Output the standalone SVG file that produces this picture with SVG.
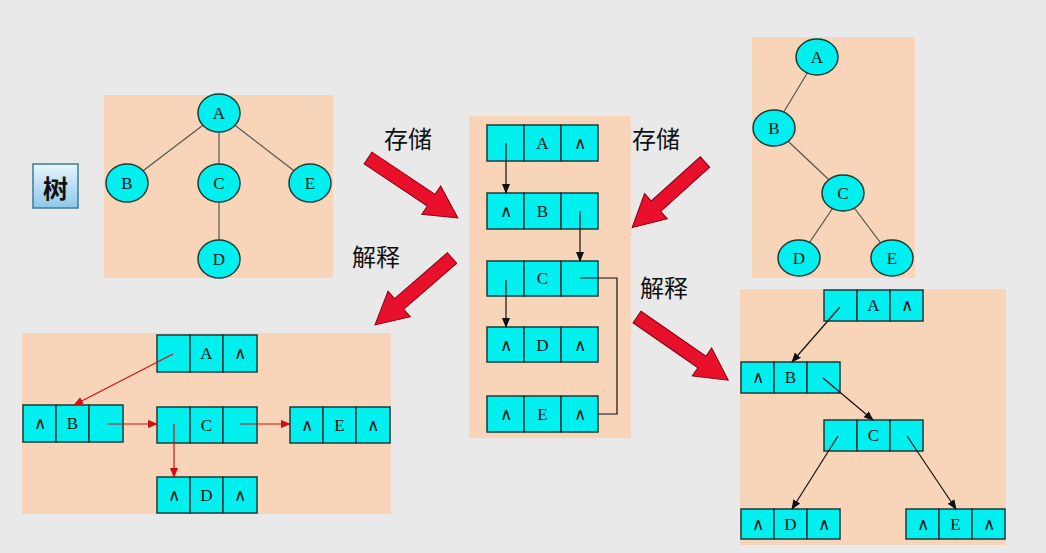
<svg xmlns="http://www.w3.org/2000/svg" width="1046" height="553" viewBox="0 0 1046 553">
<defs>
<style>
.panel{fill:#f8d5b8}
.nd{fill:#00f0f0;stroke:#1a3a3a;stroke-width:1.5}
.cell{fill:#00f0f0;stroke:#1a3a3a;stroke-width:1.5}
.t{font-family:"Liberation Serif",serif;font-size:17px;fill:#111;text-anchor:middle;dominant-baseline:central}
.e{stroke:#555;stroke-width:1.2;fill:none}
.k{stroke:#111;stroke-width:1.2;fill:none;marker-end:url(#ak)}
.r{stroke:#d01010;stroke-width:1.2;fill:none;marker-end:url(#ar)}
.big{fill:#e8102a;stroke:#8a0010;stroke-width:1}
.lbl{font-family:"Noto Sans CJK SC","Noto Sans",sans-serif;font-size:24px;fill:#111}
</style>
<marker id="ak" markerWidth="10" markerHeight="10" refX="9" refY="5" orient="auto" markerUnits="userSpaceOnUse"><path d="M0,1 L10,5 L0,9 Z" fill="#111"/></marker>
<marker id="ar" markerWidth="10" markerHeight="10" refX="9" refY="5" orient="auto" markerUnits="userSpaceOnUse"><path d="M0,1 L10,5 L0,9 Z" fill="#d01010"/></marker>
<linearGradient id="gb" x1="0" y1="0" x2="0" y2="1"><stop offset="0" stop-color="#e8f6fc"/><stop offset="1" stop-color="#8cc8e8"/></linearGradient>
</defs>
<rect width="1046" height="553" fill="#e9e9e9"/>

<g id="tree-label">
<rect x="33" y="164" width="45" height="44" fill="url(#gb)" stroke="#3a7ca0" stroke-width="1.5"/>
<text x="55.5" y="187" font-family="Noto Sans CJK SC,sans-serif" font-size="25" font-weight="bold" text-anchor="middle" dominant-baseline="central" fill="#111">树</text>
</g>

<rect class="panel" x="104" y="95" width="229" height="183"/>
<rect class="panel" x="469" y="116" width="162" height="322"/>
<rect class="panel" x="752" y="37" width="163" height="241"/>
<rect class="panel" x="740" y="289" width="266" height="256"/>
<rect class="panel" x="22" y="333" width="369" height="181"/>

<g id="connectors">
<line class="e" x1="219" y1="113" x2="127" y2="183"/>
<line class="e" x1="219" y1="113" x2="219" y2="259"/>
<line class="e" x1="219" y1="113" x2="310" y2="183"/>
<line class="e" x1="817" y1="57" x2="774" y2="128"/>
<line class="e" x1="774" y1="128" x2="843" y2="193"/>
<line class="e" x1="843" y1="193" x2="799" y2="258"/>
<line class="e" x1="843" y1="193" x2="892" y2="258"/>
</g>

<g id="tree1">
<g id="t1A"><ellipse class="nd" cx="219" cy="113" rx="21" ry="19"/><text class="t" x="219" y="113">A</text></g>
<g id="t1B"><ellipse class="nd" cx="127" cy="183" rx="21" ry="19"/><text class="t" x="127" y="183">B</text></g>
<g id="t1C"><ellipse class="nd" cx="219" cy="183" rx="21" ry="19"/><text class="t" x="219" y="183">C</text></g>
<g id="t1E"><ellipse class="nd" cx="310" cy="183" rx="21" ry="19"/><text class="t" x="310" y="183">E</text></g>
<g id="t1D"><ellipse class="nd" cx="219" cy="259" rx="21" ry="19"/><text class="t" x="219" y="259">D</text></g>
</g>

<g id="tree2">
<g id="t2A"><ellipse class="nd" cx="817" cy="57" rx="21" ry="18"/><text class="t" x="817" y="57">A</text></g>
<g id="t2B"><ellipse class="nd" cx="774" cy="128" rx="21" ry="18"/><text class="t" x="774" y="128">B</text></g>
<g id="t2C"><ellipse class="nd" cx="843" cy="193" rx="21" ry="18"/><text class="t" x="843" y="193">C</text></g>
<g id="t2D"><ellipse class="nd" cx="799" cy="258" rx="21" ry="18"/><text class="t" x="799" y="258">D</text></g>
<g id="t2E"><ellipse class="nd" cx="892" cy="258" rx="21" ry="18"/><text class="t" x="892" y="258">E</text></g>
</g>

<!-- middle storage -->
<g id="mA"><rect class="cell" x="487" y="125" width="37" height="36"/><rect class="cell" x="524" y="125" width="37" height="36"/><rect class="cell" x="561" y="125" width="37" height="36"/><text class="t" x="542.5" y="143">A</text><text class="t" x="579.5" y="143">∧</text></g>
<g id="mB"><rect class="cell" x="487" y="193" width="37" height="36"/><rect class="cell" x="524" y="193" width="37" height="36"/><rect class="cell" x="561" y="193" width="37" height="36"/><text class="t" x="505.5" y="211">∧</text><text class="t" x="542.5" y="211">B</text></g>
<g id="mC"><rect class="cell" x="487" y="261" width="37" height="35"/><rect class="cell" x="524" y="261" width="37" height="35"/><rect class="cell" x="561" y="261" width="37" height="35"/><text class="t" x="542.5" y="278">C</text></g>
<g id="mD"><rect class="cell" x="487" y="327" width="37" height="35"/><rect class="cell" x="524" y="327" width="37" height="35"/><rect class="cell" x="561" y="327" width="37" height="35"/><text class="t" x="505.5" y="345">∧</text><text class="t" x="542.5" y="345">D</text><text class="t" x="579.5" y="345">∧</text></g>
<g id="mE"><rect class="cell" x="487" y="396" width="37" height="36"/><rect class="cell" x="524" y="396" width="37" height="36"/><rect class="cell" x="561" y="396" width="37" height="36"/><text class="t" x="505.5" y="414">∧</text><text class="t" x="542.5" y="414">E</text><text class="t" x="579.5" y="414">∧</text></g>

<!-- bottom right -->
<g id="rA"><rect class="cell" x="824" y="290" width="33" height="31"/><rect class="cell" x="857" y="290" width="33" height="31"/><rect class="cell" x="890" y="290" width="33" height="31"/><text class="t" x="873.5" y="305.5">A</text><text class="t" x="906.5" y="305.5">∧</text></g>
<g id="rB"><rect class="cell" x="741" y="362" width="33" height="31"/><rect class="cell" x="774" y="362" width="33" height="31"/><rect class="cell" x="807" y="362" width="33" height="31"/><text class="t" x="757.5" y="377.5">∧</text><text class="t" x="790.5" y="377.5">B</text></g>
<g id="rC"><rect class="cell" x="824" y="420" width="33" height="31"/><rect class="cell" x="857" y="420" width="33" height="31"/><rect class="cell" x="890" y="420" width="33" height="31"/><text class="t" x="873.5" y="435.5">C</text></g>
<g id="rD"><rect class="cell" x="741" y="509" width="33" height="30"/><rect class="cell" x="774" y="509" width="33" height="30"/><rect class="cell" x="807" y="509" width="33" height="30"/><text class="t" x="757.5" y="524">∧</text><text class="t" x="790.5" y="524">D</text><text class="t" x="823.5" y="524">∧</text></g>
<g id="rE"><rect class="cell" x="906" y="509" width="33" height="30"/><rect class="cell" x="939" y="509" width="33" height="30"/><rect class="cell" x="972" y="509" width="33" height="30"/><text class="t" x="922.5" y="524">∧</text><text class="t" x="955.5" y="524">E</text><text class="t" x="988.5" y="524">∧</text></g>

<!-- bottom left -->
<g id="lA"><rect class="cell" x="157" y="335" width="33" height="37"/><rect class="cell" x="190" y="335" width="33" height="37"/><rect class="cell" x="223" y="335" width="34" height="37"/><text class="t" x="206.5" y="353.5">A</text><text class="t" x="240" y="353.5">∧</text></g>
<g id="lB"><rect class="cell" x="23" y="405" width="33" height="37"/><rect class="cell" x="56" y="405" width="33" height="37"/><rect class="cell" x="89" y="405" width="34" height="37"/><text class="t" x="39.5" y="423.5">∧</text><text class="t" x="72.5" y="423.5">B</text></g>
<g id="lC"><rect class="cell" x="157" y="407" width="33" height="36"/><rect class="cell" x="190" y="407" width="33" height="36"/><rect class="cell" x="223" y="407" width="34" height="36"/><text class="t" x="206.5" y="425">C</text></g>
<g id="lE"><rect class="cell" x="290" y="407" width="33" height="36"/><rect class="cell" x="323" y="407" width="33" height="36"/><rect class="cell" x="356" y="407" width="34" height="36"/><text class="t" x="306.5" y="425">∧</text><text class="t" x="339.5" y="425">E</text><text class="t" x="373" y="425">∧</text></g>
<g id="lD"><rect class="cell" x="157" y="477" width="33" height="36"/><rect class="cell" x="190" y="477" width="33" height="36"/><rect class="cell" x="223" y="477" width="34" height="36"/><text class="t" x="173.5" y="495">∧</text><text class="t" x="206.5" y="495">D</text><text class="t" x="240" y="495">∧</text></g>

<g id="pointers">
<path class="k" d="M506,143 V193"/>
<path class="k" d="M580,211 V261"/>
<path class="k" d="M506,280 V327"/>
<path class="e" style="stroke:#111" d="M580,278 H617 V414 H598"/>
<path class="k" d="M840,307 L792,362"/>
<path class="k" d="M823,378 L873,420"/>
<path class="k" d="M838,436 L792,509"/>
<path class="k" d="M907,436 L956,509"/>
<path class="r" d="M173,354 L74,405"/>
<path class="r" d="M108,424 H157"/>
<path class="r" d="M240,424 H290"/>
<path class="r" d="M174,424 V477"/>
</g>

<g id="big-arrows">
<polygon class="big" transform="translate(368,158) rotate(33.7)" points="0,-7 76,-7 76,-17 108,0 76,17 76,7 0,7"/>
<polygon class="big" transform="translate(705,162) rotate(138)" points="0,-7 66,-7 66,-17 98,0 66,17 66,7 0,7"/>
<polygon class="big" transform="translate(452,258) rotate(139)" points="0,-7 70,-7 70,-17 102,0 70,17 70,7 0,7"/>
<polygon class="big" transform="translate(637,317) rotate(34.7)" points="0,-7 79,-7 79,-17 111,0 79,17 79,7 0,7"/>
</g>

<g id="labels">
<text class="lbl" x="384" y="148">存储</text>
<text class="lbl" x="632" y="148">存储</text>
<text class="lbl" x="352" y="266">解释</text>
<text class="lbl" x="640" y="297">解释</text>
</g>
</svg>
